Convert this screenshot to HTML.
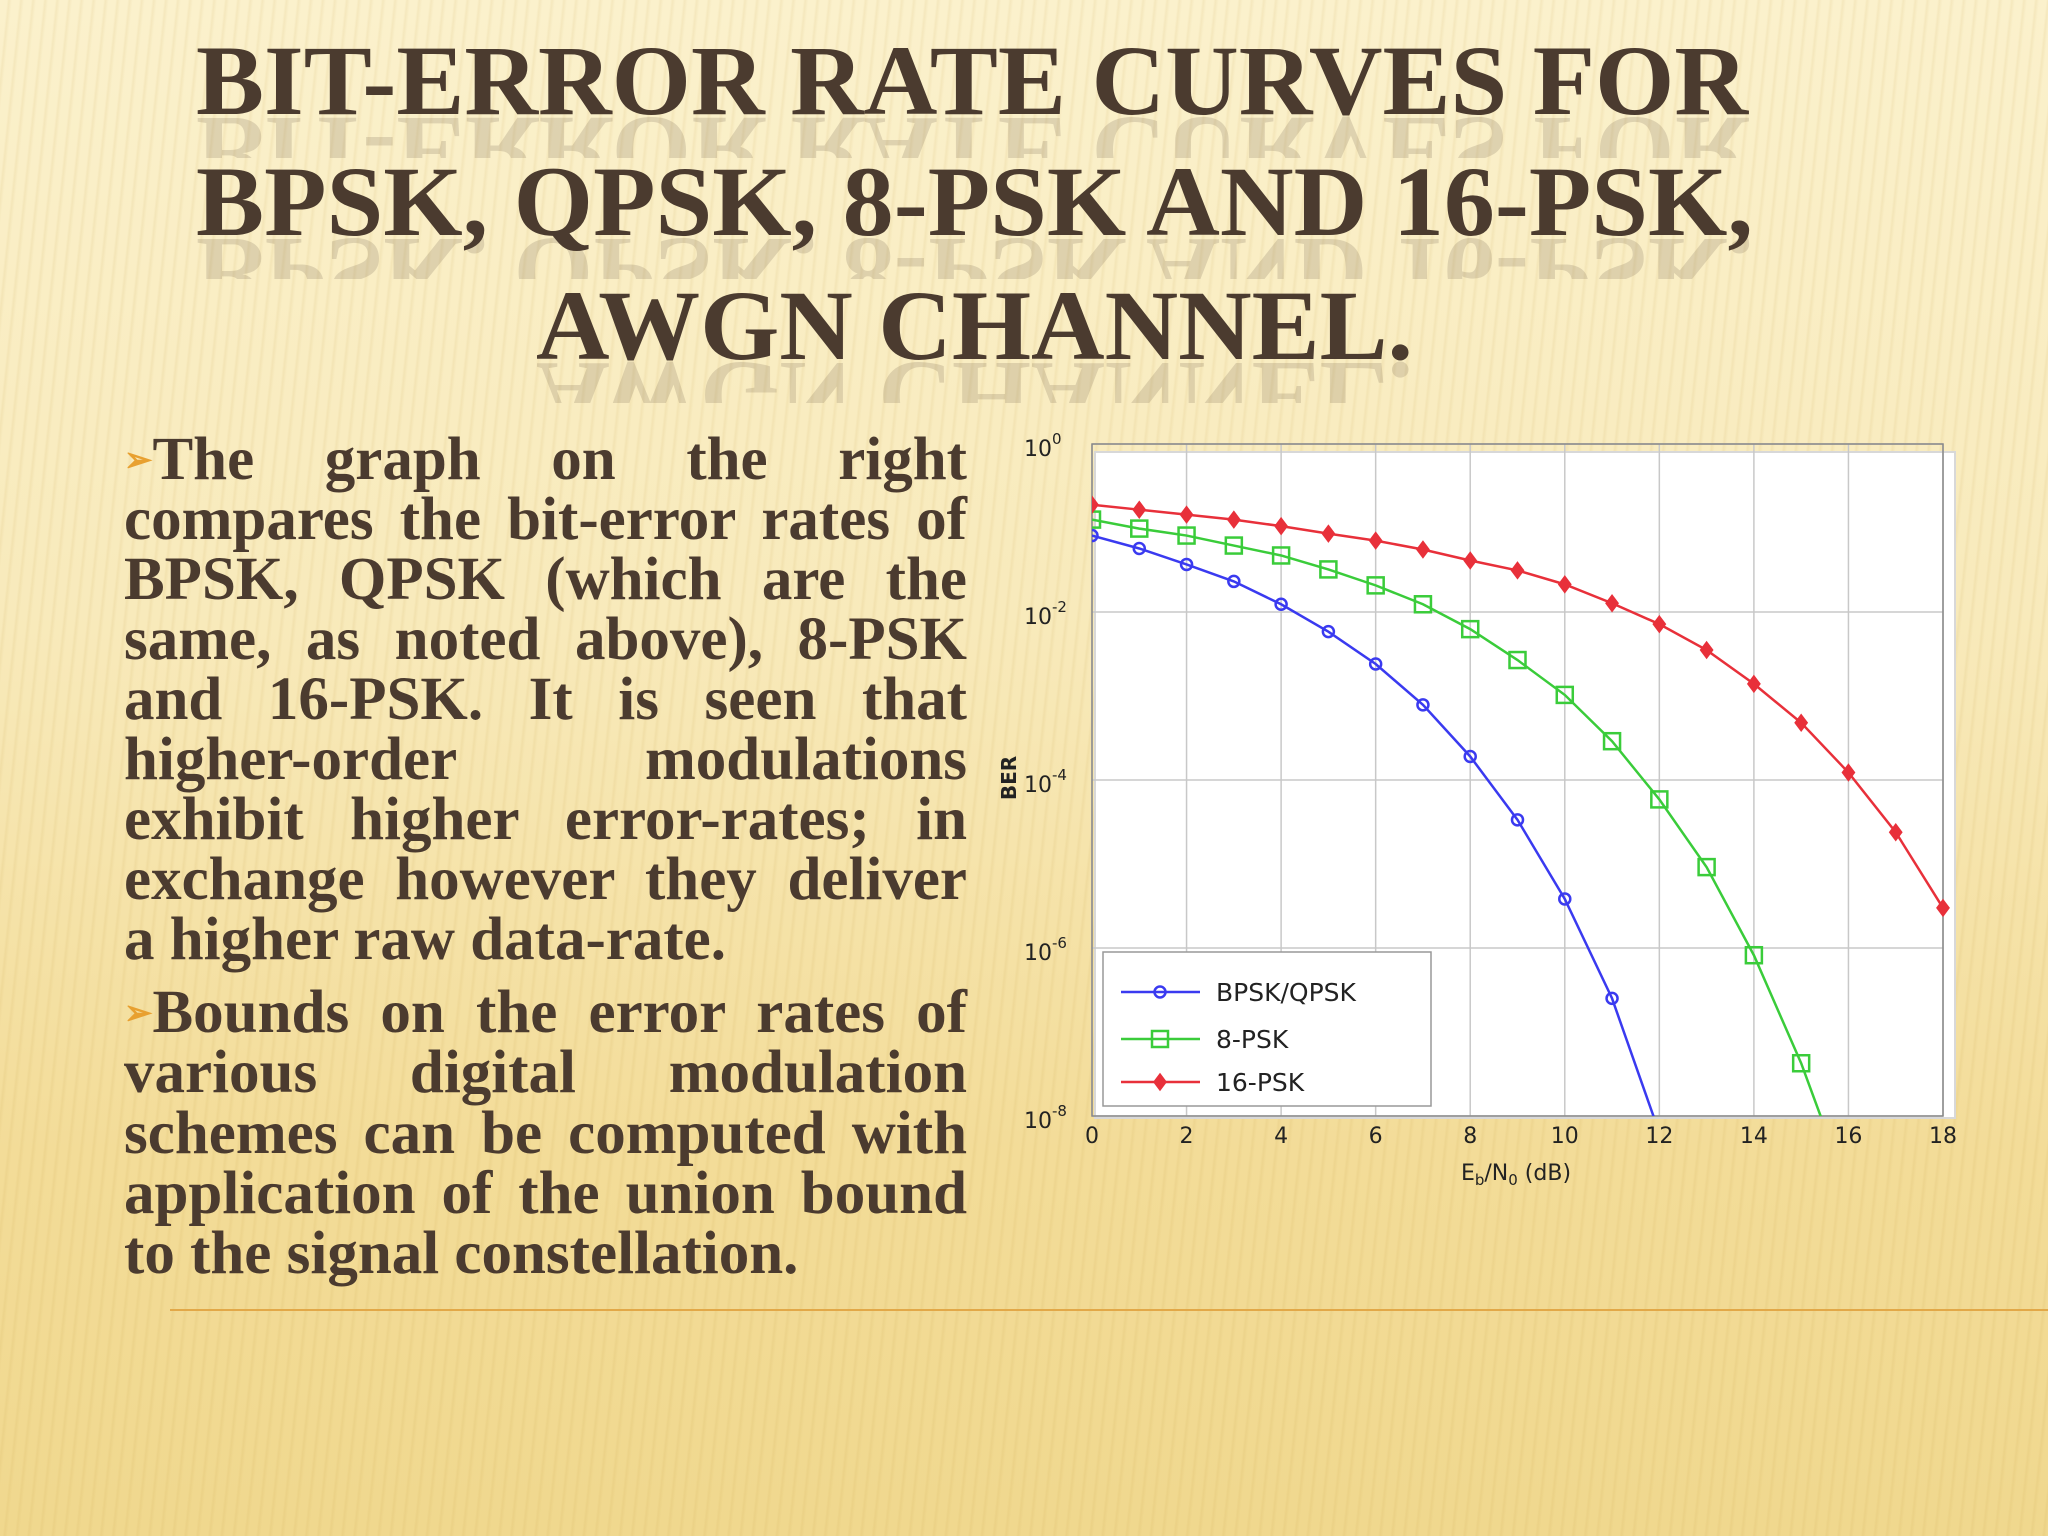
<!DOCTYPE html>
<html><head><meta charset="utf-8">
<style>
html,body{margin:0;padding:0;}
body{width:2048px;height:1536px;overflow:hidden;position:relative;
background:
repeating-linear-gradient(96deg, rgba(255,255,255,0.0) 0px, rgba(255,255,255,0.0) 7px, rgba(190,150,60,0.10) 9px, rgba(255,255,255,0.0) 12px),
linear-gradient(180deg,#fbf1cc 0%,#f8eabb 40%,#f3dc98 75%,#f0d88e 100%);
font-family:"Liberation Serif",serif;}
.ln{position:absolute;left:124px;width:843px;height:60px;line-height:60px;font-size:61px;font-weight:bold;color:#4b3b2f;white-space:nowrap;text-align:justify;text-align-last:justify;}
.last{text-align:left;text-align-last:left;}
.bul{color:#e8a030;font-size:34px;vertical-align:8px;}
</style></head>
<body>
<svg width="2048" height="1536" style="position:absolute;left:0;top:0">
<defs>
<clipPath id="r1"><rect x="0" y="116" width="2048" height="42"/></clipPath>
<clipPath id="r2"><rect x="0" y="237" width="2048" height="42"/></clipPath>
<clipPath id="r3"><rect x="0" y="361" width="2048" height="42"/></clipPath>
</defs>
<g font-family="Liberation Serif, serif" font-weight="bold" font-size="100" fill="#4b3b2f" opacity="0.16">
<g clip-path="url(#r1)"><text x="196" y="114" transform="translate(0,232) scale(1,-1)" textLength="1552" lengthAdjust="spacingAndGlyphs">BIT-ERROR RATE CURVES FOR</text></g>
<g clip-path="url(#r2)"><text x="196" y="235" transform="translate(0,474) scale(1,-1)" textLength="1557" lengthAdjust="spacingAndGlyphs">BPSK, QPSK, 8-PSK AND 16-PSK,</text></g>
<g clip-path="url(#r3)"><text x="536" y="359" transform="translate(0,722) scale(1,-1)" textLength="877" lengthAdjust="spacingAndGlyphs">AWGN CHANNEL.</text></g>
</g>
<g font-family="Liberation Serif, serif" font-weight="bold" font-size="100" fill="#4b3b2f">
<text x="196" y="114" textLength="1552" lengthAdjust="spacingAndGlyphs">BIT-ERROR RATE CURVES FOR</text>
<text x="196" y="235" textLength="1557" lengthAdjust="spacingAndGlyphs">BPSK, QPSK, 8-PSK AND 16-PSK,</text>
<text x="536" y="359" textLength="877" lengthAdjust="spacingAndGlyphs">AWGN CHANNEL.</text>
</g>
<line x1="170" y1="1310" x2="2048" y2="1310" stroke="#e2a848" stroke-width="2"/>
<g id="chart"></g>
</svg>

<div class="ln" style="top:430px"><span class="bul">➢</span>The graph on the right</div>
<div class="ln" style="top:490px">compares the bit-error rates of</div>
<div class="ln" style="top:550px">BPSK, QPSK (which are the</div>
<div class="ln" style="top:610px">same, as noted above), 8-PSK</div>
<div class="ln" style="top:670px">and 16-PSK. It is seen that</div>
<div class="ln" style="top:730px">higher-order modulations</div>
<div class="ln" style="top:790px">exhibit higher error-rates; in</div>
<div class="ln" style="top:850px">exchange however they deliver</div>
<div class="ln last" style="top:910px">a higher raw data-rate.</div>
<div class="ln" style="top:983px"><span class="bul">➢</span>Bounds on the error rates of</div>
<div class="ln" style="top:1043px">various digital modulation</div>
<div class="ln" style="top:1104px">schemes can be computed with</div>
<div class="ln" style="top:1164px">application of the union bound</div>
<div class="ln last" style="top:1224px">to the signal constellation.</div>

<script>
const ebnoBlue=[0,1,2,3,4,5,6,7,8,9,10,11,12];
const berLogBlue=[-1.09,-1.244,-1.434,-1.636,-1.908,-2.234,-2.619,-3.105,-3.72,-4.474,-5.416,-6.6,-8.2];
const ebnoGreen=[0,1,2,3,4,5,6,7,8,9,10,11,12,13,14,15,16];
const berLogGreen=[-0.9,-1.007,-1.09,-1.209,-1.327,-1.493,-1.683,-1.908,-2.204,-2.572,-2.987,-3.538,-4.231,-5.037,-6.086,-7.372,-8.9];
const ebnoRed=[0,1,2,3,4,5,6,7,8,9,10,11,12,13,14,15,16,17,18];
const berLogRed=[-0.723,-0.782,-0.841,-0.9,-0.978,-1.067,-1.15,-1.256,-1.387,-1.505,-1.671,-1.896,-2.145,-2.453,-2.856,-3.319,-3.911,-4.622,-5.523];
const xTicks=[0,2,4,6,8,10,12,14,16,18];
const yTickExp=[0,-2,-4,-6,-8];
const legendLabels=["BPSK/QPSK","8-PSK","16-PSK"];

const NS="http://www.w3.org/2000/svg";
const g=document.getElementById('chart');
const X0=1092,X1=1943,Y0=444,Y1=1116;
const sx=v=>X0+(v-0)/(18-0)*(X1-X0);
const sy=l=>Y0+(0-l)/(8)*(Y1-Y0);
function mk(t,a,p){const e=document.createElementNS(NS,t);for(const k in a)e.setAttribute(k,a[k]);(p||g).appendChild(e);return e;}

const bg=mk('rect',{x:1095,y:452,width:860,height:666,fill:'#ffffff',stroke:'#d8d8d8','stroke-width':2});


const cp=mk('clipPath',{id:'pc'});
mk('rect',{x:X0,y:Y0,width:X1-X0+12,height:Y1-Y0},cp);

xTicks.forEach(t=>{
 const l=mk('line',{x1:sx(t),y1:Y0,x2:sx(t),y2:Y1,stroke:'#c8c8c8','stroke-width':1.5});
 
 
 const tx=mk('text',{x:sx(t),y:1143,'font-family':'DejaVu Sans, sans-serif','font-size':22,'text-anchor':'middle',fill:'#222'});
 tx.textContent=t;
 
 
});
yTickExp.forEach(e=>{
 const l=mk('line',{x1:X0,y1:sy(e),x2:X1,y2:sy(e),stroke:'#c8c8c8','stroke-width':1.5});
 
 
 const tx=mk('text',{x:1024,y:sy(e)+12,'font-family':'DejaVu Sans, sans-serif','font-size':22,fill:'#222'});
 tx.textContent='10';
 const ts=mk('tspan',{dy:-12,'font-size':15},tx);ts.textContent=String(e);
 
 
});
const ax=mk('rect',{x:X0,y:Y0,width:X1-X0,height:Y1-Y0,fill:'none',stroke:'#888','stroke-width':1.5});



const yl=mk('text',{x:0,y:0,transform:'translate(1016,778) rotate(-90)','font-family':'DejaVu Sans, sans-serif','font-size':20,'font-weight':'bold','text-anchor':'middle',fill:'#222'});
yl.textContent='BER';


const xl=mk('text',{x:1516,y:1180,'font-family':'DejaVu Sans, sans-serif','font-size':22,'text-anchor':'middle',fill:'#222'});
xl.innerHTML='E<tspan font-size="15" dy="5">b</tspan><tspan dy="-5">/N</tspan><tspan font-size="15" dy="5">0</tspan><tspan dy="-5"> (dB)</tspan>';



function marker(type,x,y,col,parent){
 let e;
 if(type==='c') e=mk('circle',{cx:x,cy:y,r:5.5,fill:'none',stroke:col,'stroke-width':2.5},parent);
 else if(type==='s') e=mk('rect',{x:x-8,y:y-8,width:16,height:16,fill:'none',stroke:col,'stroke-width':2.5},parent);
 else e=mk('polygon',{points:`${x},${y-8} ${x+6},${y} ${x},${y+8} ${x-6},${y}`,fill:col,stroke:col,'stroke-width':1.5},parent);
 return e;
}
const series=[[ebnoBlue,berLogBlue,'#3a3af0','c','series-bpsk-qpsk'],[ebnoGreen,berLogGreen,'#3acc3a','s','series-8psk'],[ebnoRed,berLogRed,'#e8303a','d','series-16psk']];
series.forEach(([xs,ys,col,mt,name])=>{
 const sg=mk('g',{'clip-path':'url(#pc)'});
 
 
 const pts=xs.map((x,i)=>sx(x)+','+sy(ys[i])).join(' ');
 mk('polyline',{points:pts,fill:'none',stroke:col,'stroke-width':2.5},sg);
 xs.forEach((x,i)=>{const m=marker(mt,sx(x),sy(ys[i]),col,sg);
  
  });
});

const lg=mk('g',{});


mk('rect',{x:1103,y:952,width:328,height:154,fill:'#fff',stroke:'#999','stroke-width':1.5},lg);
const lrows=[992,1039,1082];
legendLabels.forEach((lab,i)=>{
 const [,, col,mt]=series[i];
 const eg=mk('g',{},lg);
 
 
 mk('line',{x1:1121,y1:lrows[i],x2:1200,y2:lrows[i],stroke:col,'stroke-width':2.5},eg);
 marker(mt,1160,lrows[i],col,eg);
 const t=mk('text',{x:1216,y:lrows[i]+9,'font-family':'DejaVu Sans, sans-serif','font-size':25,fill:'#222'},eg);
 t.textContent=lab;
});
</script>
</body></html>
